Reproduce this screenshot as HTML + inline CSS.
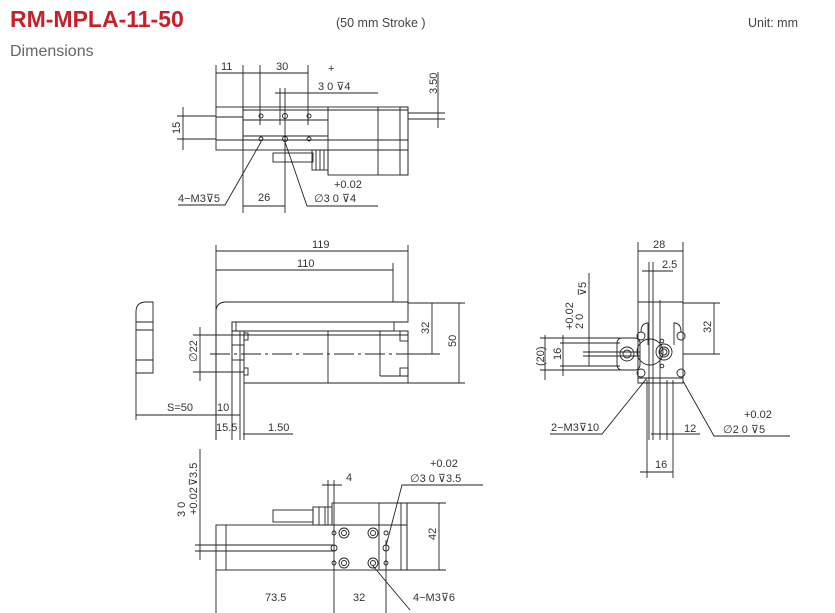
<!DOCTYPE html>
<html><head><meta charset="utf-8"><style>
html,body{margin:0;padding:0;background:#fff;width:835px;height:613px;overflow:hidden}
svg{position:absolute;left:0;top:0}
.t{font-family:"Liberation Sans Narrow","Liberation Sans",sans-serif;font-size:11px;fill:#333}
</style></head><body>
<svg width="835" height="613" viewBox="0 0 835 613" xmlns="http://www.w3.org/2000/svg">
<text x="10" y="27" font-family="Liberation Sans,sans-serif" font-size="23" font-weight="bold" fill="#c8202a">RM-MPLA-11-50</text>
<text x="10" y="56" font-family="Liberation Sans,sans-serif" font-size="16" fill="#666">Dimensions</text>
<text x="336" y="27" font-family="Liberation Sans,sans-serif" font-size="12.5" fill="#444">(50 mm Stroke )</text>
<text x="748" y="27" font-family="Liberation Sans,sans-serif" font-size="12.5" fill="#444">Unit: mm</text>

<g fill="none" stroke="#222" stroke-width="0.9">
<!-- TOP VIEW -->
<rect x="216" y="107" width="27" height="43"/>
<line x1="216" y1="117" x2="243" y2="117"/><line x1="216" y1="140" x2="243" y2="140"/>
<rect x="243" y="107" width="165" height="43"/>
<line x1="243" y1="110" x2="408" y2="110"/><line x1="243" y1="120" x2="328" y2="120"/>
<line x1="243" y1="136" x2="328" y2="136"/><line x1="243" y1="140" x2="408" y2="140"/>
<line x1="328" y1="107" x2="328" y2="175"/><line x1="378" y1="107" x2="378" y2="175"/>
<rect x="400" y="107" width="8" height="68"/>
<rect x="328" y="150" width="80" height="25"/>
<rect x="273" y="153" width="40" height="9"/>
<rect x="312" y="150" width="16" height="20"/>
<line x1="316" y1="150" x2="316" y2="170"/><line x1="320" y1="150" x2="320" y2="170"/><line x1="324" y1="150" x2="324" y2="170"/>
<circle cx="261" cy="116" r="2"/><circle cx="285" cy="116" r="2.5"/><circle cx="309" cy="116" r="2"/>
<circle cx="261" cy="139" r="2"/><circle cx="285" cy="139" r="2.5"/><circle cx="309" cy="139" r="2"/>
<line x1="216" y1="65" x2="216" y2="107"/><line x1="243" y1="65" x2="243" y2="213"/>
<line x1="260" y1="65" x2="260" y2="125"/><line x1="308" y1="65" x2="308" y2="125"/>
<line x1="216" y1="73" x2="308" y2="73"/>
<line x1="280" y1="88" x2="280" y2="125"/><line x1="285" y1="88" x2="285" y2="213"/>
<line x1="275" y1="93" x2="378" y2="93"/>
<line x1="438" y1="72" x2="438" y2="128"/>
<line x1="408" y1="113" x2="445" y2="113"/><line x1="408" y1="119" x2="445" y2="119"/>
<line x1="183" y1="107" x2="183" y2="150"/>
<line x1="177" y1="116" x2="216" y2="116"/><line x1="177" y1="139" x2="216" y2="139"/>
<polyline points="178,205 225,205 261,142"/>
<line x1="243" y1="206" x2="285" y2="206"/>
<polyline points="378,206 307,206 285,142"/>

<!-- SIDE VIEW -->
<line x1="216" y1="245" x2="216" y2="440"/><line x1="408" y1="245" x2="408" y2="305"/>
<line x1="393" y1="263" x2="393" y2="302"/>
<line x1="216" y1="251" x2="408" y2="251"/><line x1="216" y1="270" x2="393" y2="270"/>
<path d="M216,440 V312 Q216,302 226,302 H408 V322 H232 V440"/>
<rect x="232" y="322" width="162" height="9"/>
<line x1="236" y1="322" x2="236" y2="331"/>
<rect x="244" y="331" width="164" height="52"/>
<line x1="244" y1="335" x2="408" y2="335"/>
<line x1="328" y1="331" x2="328" y2="383"/><line x1="380" y1="331" x2="380" y2="376"/>
<line x1="380" y1="376" x2="408" y2="376"/>
<rect x="400" y="331" width="8" height="10"/><rect x="400" y="368" width="8" height="8"/>
<rect x="244" y="333" width="4" height="7"/><rect x="244" y="368" width="4" height="7"/>
<line x1="232" y1="331" x2="244" y2="331"/>
<rect x="232" y="345" width="12" height="15"/>
<line x1="240" y1="331" x2="240" y2="440"/><line x1="244" y1="383" x2="244" y2="440"/>
<line x1="244" y1="383" x2="465" y2="383"/>
<line x1="210" y1="354" x2="440" y2="354" stroke-dasharray="20,4,3,4"/>
<path d="M136,373 V312 Q136,302 146,302 H153 V373 Z"/>
<line x1="136" y1="322" x2="153" y2="322"/><line x1="136" y1="330" x2="153" y2="330"/><line x1="136" y1="360" x2="153" y2="360"/>
<line x1="408" y1="303" x2="465" y2="303"/><line x1="408" y1="354" x2="437" y2="354"/>
<line x1="432" y1="303" x2="432" y2="354"/><line x1="459" y1="303" x2="459" y2="383"/>
<line x1="200" y1="327" x2="200" y2="381"/>
<line x1="193" y1="335" x2="244" y2="335"/><line x1="193" y1="372" x2="244" y2="372"/>
<line x1="136" y1="373" x2="136" y2="420"/>
<line x1="136" y1="415" x2="216" y2="415"/><line x1="216" y1="415" x2="240" y2="415"/>
<line x1="243" y1="434" x2="293" y2="434"/>

<!-- END VIEW -->
<path d="M638,383 V302 H683 V383 Z"/>
<path d="M641,332 Q641,323 648,323 V345 M681,332 Q681,323 674,323 V345"/>
<line x1="638" y1="378" x2="683" y2="378"/>
<line x1="638" y1="242" x2="638" y2="302"/><line x1="683" y1="242" x2="683" y2="302"/>
<line x1="638" y1="251" x2="683" y2="251"/>
<line x1="649" y1="262" x2="649" y2="440"/><line x1="653" y1="262" x2="653" y2="440"/>
<line x1="642" y1="271" x2="673" y2="271"/>
<line x1="683" y1="303" x2="720" y2="303"/><line x1="683" y1="354" x2="720" y2="354"/>
<line x1="714" y1="303" x2="714" y2="354"/>
<circle cx="641" cy="336" r="4"/><circle cx="681" cy="336" r="4"/>
<circle cx="641" cy="373" r="4"/><circle cx="681" cy="373" r="4"/>
<circle cx="650" cy="352" r="13"/>
<circle cx="664" cy="352" r="8"/><circle cx="664" cy="352" r="5"/><circle cx="664" cy="352" r="3"/>
<circle cx="662" cy="341" r="1.8"/><circle cx="662" cy="366" r="1.8"/>
<rect x="617" y="338" width="23" height="32" rx="5"/>
<circle cx="627" cy="354" r="7"/><circle cx="627" cy="354" r="4"/>
<line x1="545" y1="335" x2="545" y2="380"/><line x1="563" y1="335" x2="563" y2="376"/>
<line x1="540" y1="338" x2="620" y2="338"/><line x1="540" y1="370" x2="620" y2="370"/>
<line x1="560" y1="343" x2="620" y2="343"/><line x1="560" y1="366" x2="620" y2="366"/>
<line x1="589" y1="273" x2="589" y2="366"/>
<line x1="583" y1="352" x2="640" y2="352"/><line x1="583" y1="356" x2="640" y2="356"/>
<line x1="660" y1="300" x2="660" y2="440"/><line x1="667" y1="380" x2="667" y2="440"/>
<line x1="647" y1="380" x2="647" y2="478"/><line x1="673" y1="380" x2="673" y2="478"/>
<polyline points="550,434 602,434 647,378"/>
<line x1="651" y1="434" x2="700" y2="434"/>
<polyline points="790,436 714,436 683,381"/>
<line x1="640" y1="472" x2="673" y2="472"/>

<!-- BOTTOM VIEW -->
<rect x="216" y="525" width="191" height="45"/>
<line x1="226" y1="525" x2="226" y2="570"/>
<line x1="216" y1="570" x2="216" y2="613"/>
<rect x="332" y="503" width="75" height="22"/>
<rect x="379" y="503" width="28" height="67"/>
<rect x="401" y="503" width="6" height="67"/>
<rect x="273" y="510" width="40" height="12"/>
<rect x="313" y="507" width="19" height="18"/>
<line x1="319" y1="507" x2="319" y2="525"/><line x1="325" y1="507" x2="325" y2="525"/>
<circle cx="344" cy="533" r="5"/><circle cx="344" cy="533" r="2.5"/>
<circle cx="373" cy="533" r="5"/><circle cx="373" cy="533" r="2.5"/>
<circle cx="344" cy="563" r="5"/><circle cx="344" cy="563" r="2.5"/>
<circle cx="373" cy="563" r="5"/><circle cx="373" cy="563" r="2.5"/>
<circle cx="334" cy="533" r="2"/><circle cx="334" cy="548" r="3"/><circle cx="334" cy="563" r="2"/>
<circle cx="386" cy="533" r="2"/><circle cx="386" cy="548" r="3"/><circle cx="386" cy="563" r="2"/>
<line x1="334" y1="480" x2="334" y2="613"/><line x1="386" y1="540" x2="386" y2="613"/>
<line x1="328" y1="480" x2="328" y2="525"/>
<line x1="322" y1="485" x2="342" y2="485"/>
<line x1="200" y1="449" x2="200" y2="560"/>
<line x1="195" y1="545" x2="334" y2="545"/><line x1="195" y1="551" x2="334" y2="551"/>
<polyline points="483,485 402,485 386,546"/>
<line x1="407" y1="503" x2="446" y2="503"/><line x1="407" y1="570" x2="446" y2="570"/>
<line x1="439" y1="503" x2="439" y2="570"/>
<line x1="373" y1="566" x2="410" y2="610"/>
</g>

<g class="t">
<text x="221" y="70">11</text><text x="276" y="70">30</text>
<text x="328" y="72">+</text><text x="318" y="90">3  0    ⊽4</text>
<text transform="translate(437,94) rotate(-90)">3.50</text>
<text transform="translate(180,134) rotate(-90)">15</text>
<text x="178" y="202">4−M3⊽5</text><text x="258" y="201">26</text>
<text x="334" y="188">+0.02</text><text x="314" y="202">∅3   0    ⊽4</text>
<text x="312" y="248">119</text><text x="297" y="267">110</text>
<text transform="translate(429,334) rotate(-90)">32</text>
<text transform="translate(456,347) rotate(-90)">50</text>
<text transform="translate(197,362) rotate(-90)">∅22</text>
<text x="167" y="411">S=50</text><text x="217" y="411">10</text>
<text x="216" y="431">15.5</text><text x="268" y="431">1.50</text>
<text x="653" y="248">28</text><text x="662" y="268">2.5</text>
<text transform="translate(711,333) rotate(-90)">32</text>
<text transform="translate(544,366) rotate(-90)">(20)</text>
<text transform="translate(561,360) rotate(-90)">16</text>
<text transform="translate(573,330) rotate(-90)">+0.02</text>
<text transform="translate(583,329) rotate(-90)">2  0</text>
<text transform="translate(586,296) rotate(-90)">⊽5</text>
<text x="551" y="431">2−M3⊽10</text><text x="684" y="432">12</text>
<text x="744" y="418">+0.02</text><text x="723" y="433">∅2   0    ⊽5</text>
<text x="655" y="468">16</text>
<text transform="translate(197,515) rotate(-90)">+0.02</text>
<text transform="translate(197,486) rotate(-90)">⊽3.5</text>
<text transform="translate(185,517) rotate(-90)">3   0</text>
<text x="346" y="481">4</text>
<text x="430" y="467">+0.02</text><text x="410" y="482">∅3   0    ⊽3.5</text>
<text transform="translate(436,540) rotate(-90)">42</text>
<text x="265" y="601">73.5</text><text x="353" y="601">32</text><text x="413" y="601">4−M3⊽6</text>
</g>
</svg>
</body></html>
